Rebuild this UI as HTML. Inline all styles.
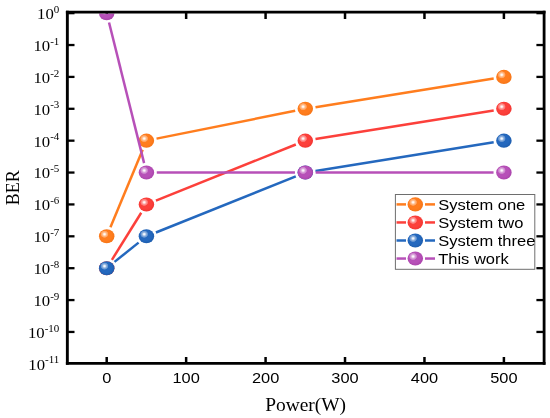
<!DOCTYPE html>
<html><head><meta charset="utf-8"><title>BER vs Power</title>
<style>
html,body{margin:0;padding:0;background:#fff;}
svg{display:block;}
.sans{font-family:"Liberation Sans",sans-serif;}
.serif{font-family:"Liberation Serif",serif;}
</style></head><body>
<svg width="550" height="418" viewBox="0 0 550 418">
<defs>
<radialGradient id="go" cx="0.45" cy="0.45" r="0.6"><stop offset="0" stop-color="#FF7D1E"/><stop offset="0.6" stop-color="#FF7D1E"/><stop offset="1" stop-color="#F47416"/></radialGradient>
<radialGradient id="gr" cx="0.45" cy="0.45" r="0.6"><stop offset="0" stop-color="#FC403B"/><stop offset="0.6" stop-color="#FC403B"/><stop offset="1" stop-color="#F03430"/></radialGradient>
<radialGradient id="gb" cx="0.45" cy="0.45" r="0.6"><stop offset="0" stop-color="#2468BE"/><stop offset="0.6" stop-color="#2468BE"/><stop offset="1" stop-color="#1C5BAA"/></radialGradient>
<radialGradient id="gp" cx="0.45" cy="0.45" r="0.6"><stop offset="0" stop-color="#B750B8"/><stop offset="0.6" stop-color="#B750B8"/><stop offset="1" stop-color="#A842A9"/></radialGradient>
<radialGradient id="hl" cx="0.5" cy="0.5" r="0.5"><stop offset="0" stop-color="#fff" stop-opacity="1"/><stop offset="0.2" stop-color="#fff" stop-opacity="0.9"/><stop offset="0.5" stop-color="#fff" stop-opacity="0.5"/><stop offset="0.85" stop-color="#fff" stop-opacity="0.25"/><stop offset="1" stop-color="#fff" stop-opacity="0"/></radialGradient>
<clipPath id="plot"><rect x="68.8" y="13.5" width="473.9" height="348.5"/></clipPath>
</defs>
<rect width="550" height="418" fill="#fff"/>
<g stroke="#000" fill="none">
<line x1="68" y1="13.15" x2="74.5" y2="13.15" stroke-width="2.3"/>
<line x1="536.4" y1="13.15" x2="543.5" y2="13.15" stroke-width="2.3"/>
<line x1="68" y1="45.03" x2="74.5" y2="45.03" stroke-width="2.3"/>
<line x1="536.4" y1="45.03" x2="543.5" y2="45.03" stroke-width="2.3"/>
<line x1="68" y1="76.91" x2="74.5" y2="76.91" stroke-width="2.3"/>
<line x1="536.4" y1="76.91" x2="543.5" y2="76.91" stroke-width="2.3"/>
<line x1="68" y1="108.79" x2="74.5" y2="108.79" stroke-width="2.3"/>
<line x1="536.4" y1="108.79" x2="543.5" y2="108.79" stroke-width="2.3"/>
<line x1="68" y1="140.67" x2="74.5" y2="140.67" stroke-width="2.3"/>
<line x1="536.4" y1="140.67" x2="543.5" y2="140.67" stroke-width="2.3"/>
<line x1="68" y1="172.55" x2="74.5" y2="172.55" stroke-width="2.3"/>
<line x1="536.4" y1="172.55" x2="543.5" y2="172.55" stroke-width="2.3"/>
<line x1="68" y1="204.43" x2="74.5" y2="204.43" stroke-width="2.3"/>
<line x1="536.4" y1="204.43" x2="543.5" y2="204.43" stroke-width="2.3"/>
<line x1="68" y1="236.31" x2="74.5" y2="236.31" stroke-width="2.3"/>
<line x1="536.4" y1="236.31" x2="543.5" y2="236.31" stroke-width="2.3"/>
<line x1="68" y1="268.19" x2="74.5" y2="268.19" stroke-width="2.3"/>
<line x1="536.4" y1="268.19" x2="543.5" y2="268.19" stroke-width="2.3"/>
<line x1="68" y1="300.07" x2="74.5" y2="300.07" stroke-width="2.3"/>
<line x1="536.4" y1="300.07" x2="543.5" y2="300.07" stroke-width="2.3"/>
<line x1="68" y1="331.95" x2="74.5" y2="331.95" stroke-width="2.3"/>
<line x1="536.4" y1="331.95" x2="543.5" y2="331.95" stroke-width="2.3"/>
<line x1="106.70" y1="357" x2="106.70" y2="363" stroke-width="2.5"/>
<line x1="106.70" y1="13" x2="106.70" y2="19" stroke-width="2.5"/>
<line x1="186.14" y1="357" x2="186.14" y2="363" stroke-width="2.5"/>
<line x1="186.14" y1="13" x2="186.14" y2="19" stroke-width="2.5"/>
<line x1="265.58" y1="357" x2="265.58" y2="363" stroke-width="2.5"/>
<line x1="265.58" y1="13" x2="265.58" y2="19" stroke-width="2.5"/>
<line x1="345.02" y1="357" x2="345.02" y2="363" stroke-width="2.5"/>
<line x1="345.02" y1="13" x2="345.02" y2="19" stroke-width="2.5"/>
<line x1="424.46" y1="357" x2="424.46" y2="363" stroke-width="2.5"/>
<line x1="424.46" y1="13" x2="424.46" y2="19" stroke-width="2.5"/>
<line x1="503.90" y1="357" x2="503.90" y2="363" stroke-width="2.5"/>
<line x1="503.90" y1="13" x2="503.90" y2="19" stroke-width="2.5"/>
</g>
<g clip-path="url(#plot)">
<line x1="110.44" y1="227.31" x2="142.68" y2="149.67" stroke="#FF7D1E" stroke-width="2.5"/>
<line x1="156.54" y1="138.64" x2="295.18" y2="110.82" stroke="#FF7D1E" stroke-width="2.5"/>
<line x1="315.50" y1="107.15" x2="493.70" y2="78.55" stroke="#FF7D1E" stroke-width="2.5"/>
<ellipse cx="106.70" cy="236.31" rx="7.75" ry="7.05" fill="url(#go)"/><ellipse cx="104.50" cy="234.21" rx="4.1" ry="3.8" fill="url(#hl)"/>
<ellipse cx="146.42" cy="140.67" rx="7.75" ry="7.05" fill="url(#go)"/><ellipse cx="144.22" cy="138.57" rx="4.1" ry="3.8" fill="url(#hl)"/>
<ellipse cx="305.30" cy="108.79" rx="7.75" ry="7.05" fill="url(#go)"/><ellipse cx="303.10" cy="106.69" rx="4.1" ry="3.8" fill="url(#hl)"/>
<ellipse cx="503.90" cy="76.91" rx="7.75" ry="7.05" fill="url(#go)"/><ellipse cx="501.70" cy="74.81" rx="4.1" ry="3.8" fill="url(#hl)"/>
<line x1="111.90" y1="259.85" x2="141.22" y2="212.77" stroke="#FC403B" stroke-width="2.5"/>
<line x1="155.92" y1="200.62" x2="295.80" y2="144.48" stroke="#FC403B" stroke-width="2.5"/>
<line x1="315.50" y1="139.03" x2="493.70" y2="110.43" stroke="#FC403B" stroke-width="2.5"/>
<ellipse cx="106.70" cy="268.19" rx="7.75" ry="7.05" fill="url(#gr)"/><ellipse cx="104.50" cy="266.09" rx="4.1" ry="3.8" fill="url(#hl)"/>
<ellipse cx="146.42" cy="204.43" rx="7.75" ry="7.05" fill="url(#gr)"/><ellipse cx="144.22" cy="202.33" rx="4.1" ry="3.8" fill="url(#hl)"/>
<ellipse cx="305.30" cy="140.67" rx="7.75" ry="7.05" fill="url(#gr)"/><ellipse cx="303.10" cy="138.57" rx="4.1" ry="3.8" fill="url(#hl)"/>
<ellipse cx="503.90" cy="108.79" rx="7.75" ry="7.05" fill="url(#gr)"/><ellipse cx="501.70" cy="106.69" rx="4.1" ry="3.8" fill="url(#hl)"/>
<line x1="114.54" y1="261.90" x2="138.58" y2="242.60" stroke="#2468BE" stroke-width="2.5"/>
<line x1="155.92" y1="232.50" x2="295.80" y2="176.36" stroke="#2468BE" stroke-width="2.5"/>
<line x1="315.50" y1="170.91" x2="493.70" y2="142.31" stroke="#2468BE" stroke-width="2.5"/>
<ellipse cx="106.70" cy="268.19" rx="7.75" ry="7.05" fill="url(#gb)"/><ellipse cx="104.50" cy="266.09" rx="4.1" ry="3.8" fill="url(#hl)"/>
<ellipse cx="146.42" cy="236.31" rx="7.75" ry="7.05" fill="url(#gb)"/><ellipse cx="144.22" cy="234.21" rx="4.1" ry="3.8" fill="url(#hl)"/>
<ellipse cx="305.30" cy="172.55" rx="7.75" ry="7.05" fill="url(#gb)"/><ellipse cx="303.10" cy="170.45" rx="4.1" ry="3.8" fill="url(#hl)"/>
<ellipse cx="503.90" cy="140.67" rx="7.75" ry="7.05" fill="url(#gb)"/><ellipse cx="501.70" cy="138.57" rx="4.1" ry="3.8" fill="url(#hl)"/>
<line x1="109.04" y1="22.55" x2="144.08" y2="163.15" stroke="#B750B8" stroke-width="2.5"/>
<line x1="156.77" y1="172.55" x2="294.95" y2="172.55" stroke="#B750B8" stroke-width="2.5"/>
<line x1="315.65" y1="172.55" x2="493.55" y2="172.55" stroke="#B750B8" stroke-width="2.5"/>
<ellipse cx="106.70" cy="13.15" rx="7.75" ry="7.05" fill="url(#gp)"/><ellipse cx="104.50" cy="11.05" rx="4.1" ry="3.8" fill="url(#hl)"/>
<ellipse cx="146.42" cy="172.55" rx="7.75" ry="7.05" fill="url(#gp)"/><ellipse cx="144.22" cy="170.45" rx="4.1" ry="3.8" fill="url(#hl)"/>
<ellipse cx="305.30" cy="172.55" rx="7.75" ry="7.05" fill="url(#gp)"/><ellipse cx="303.10" cy="170.45" rx="4.1" ry="3.8" fill="url(#hl)"/>
<ellipse cx="503.90" cy="172.55" rx="7.75" ry="7.05" fill="url(#gp)"/><ellipse cx="501.70" cy="170.45" rx="4.1" ry="3.8" fill="url(#hl)"/>
</g>
<g stroke="#000" fill="none">
<line x1="67.35" y1="10.7" x2="67.35" y2="364.7" stroke-width="2.9"/>
<line x1="544.1" y1="10.7" x2="544.1" y2="364.7" stroke-width="2.8"/>
<line x1="65.9" y1="12.1" x2="545.5" y2="12.1" stroke-width="2.8"/>
<line x1="65.9" y1="363.35" x2="545.5" y2="363.35" stroke-width="2.7"/>
</g>
<text class="serif" transform="translate(59.3,19.05) scale(1.1,1)" text-anchor="end" font-size="15.2" fill="#000">10<tspan font-size="10" dy="-6.3">0</tspan></text>
<text class="serif" transform="translate(59.3,50.93) scale(1.1,1)" text-anchor="end" font-size="15.2" fill="#000">10<tspan font-size="10" dy="-6.3">-1</tspan></text>
<text class="serif" transform="translate(59.3,82.81) scale(1.1,1)" text-anchor="end" font-size="15.2" fill="#000">10<tspan font-size="10" dy="-6.3">-2</tspan></text>
<text class="serif" transform="translate(59.3,114.69) scale(1.1,1)" text-anchor="end" font-size="15.2" fill="#000">10<tspan font-size="10" dy="-6.3">-3</tspan></text>
<text class="serif" transform="translate(59.3,146.57) scale(1.1,1)" text-anchor="end" font-size="15.2" fill="#000">10<tspan font-size="10" dy="-6.3">-4</tspan></text>
<text class="serif" transform="translate(59.3,178.45) scale(1.1,1)" text-anchor="end" font-size="15.2" fill="#000">10<tspan font-size="10" dy="-6.3">-5</tspan></text>
<text class="serif" transform="translate(59.3,210.33) scale(1.1,1)" text-anchor="end" font-size="15.2" fill="#000">10<tspan font-size="10" dy="-6.3">-6</tspan></text>
<text class="serif" transform="translate(59.3,242.21) scale(1.1,1)" text-anchor="end" font-size="15.2" fill="#000">10<tspan font-size="10" dy="-6.3">-7</tspan></text>
<text class="serif" transform="translate(59.3,274.09) scale(1.1,1)" text-anchor="end" font-size="15.2" fill="#000">10<tspan font-size="10" dy="-6.3">-8</tspan></text>
<text class="serif" transform="translate(59.3,305.97) scale(1.1,1)" text-anchor="end" font-size="15.2" fill="#000">10<tspan font-size="10" dy="-6.3">-9</tspan></text>
<text class="serif" transform="translate(59.3,337.85) scale(1.1,1)" text-anchor="end" font-size="15.2" fill="#000">10<tspan font-size="10" dy="-6.3">-10</tspan></text>
<text class="serif" transform="translate(59.3,369.73) scale(1.1,1)" text-anchor="end" font-size="15.2" fill="#000">10<tspan font-size="10" dy="-6.3">-11</tspan></text>
<text class="sans" transform="translate(106.70,383) scale(1.13,1)" text-anchor="middle" font-size="14.5" fill="#000">0</text>
<text class="sans" transform="translate(186.14,383) scale(1.13,1)" text-anchor="middle" font-size="14.5" fill="#000">100</text>
<text class="sans" transform="translate(265.58,383) scale(1.13,1)" text-anchor="middle" font-size="14.5" fill="#000">200</text>
<text class="sans" transform="translate(345.02,383) scale(1.13,1)" text-anchor="middle" font-size="14.5" fill="#000">300</text>
<text class="sans" transform="translate(424.46,383) scale(1.13,1)" text-anchor="middle" font-size="14.5" fill="#000">400</text>
<text class="sans" transform="translate(503.90,383) scale(1.13,1)" text-anchor="middle" font-size="14.5" fill="#000">500</text>
<text class="serif" transform="translate(305.6,410.6) scale(1.08,1)" text-anchor="middle" font-size="18" fill="#000">Power(W)</text>
<text class="serif" transform="translate(19.1,187.8) scale(1.1,1) rotate(-90)" text-anchor="middle" font-size="18" fill="#000">BER</text>
<rect x="395.4" y="194.5" width="139.4" height="74.8" fill="#fff" stroke="#6e6e6e" stroke-width="1"/>
<line x1="396.5" y1="204.40" x2="406" y2="204.40" stroke="#FF7D1E" stroke-width="2.5"/>
<line x1="425" y1="204.40" x2="435" y2="204.40" stroke="#FF7D1E" stroke-width="2.5"/>
<ellipse cx="415.30" cy="204.40" rx="7.75" ry="7.05" fill="url(#go)"/><ellipse cx="413.10" cy="202.30" rx="4.1" ry="3.8" fill="url(#hl)"/>
<text class="sans" transform="translate(438.2,209.70) scale(1.1,1)" font-size="15" fill="#000">System one</text>
<line x1="396.5" y1="222.45" x2="406" y2="222.45" stroke="#FC403B" stroke-width="2.5"/>
<line x1="425" y1="222.45" x2="435" y2="222.45" stroke="#FC403B" stroke-width="2.5"/>
<ellipse cx="415.30" cy="222.45" rx="7.75" ry="7.05" fill="url(#gr)"/><ellipse cx="413.10" cy="220.35" rx="4.1" ry="3.8" fill="url(#hl)"/>
<text class="sans" transform="translate(438.2,227.75) scale(1.1,1)" font-size="15" fill="#000">System two</text>
<line x1="396.5" y1="240.50" x2="406" y2="240.50" stroke="#2468BE" stroke-width="2.5"/>
<line x1="425" y1="240.50" x2="435" y2="240.50" stroke="#2468BE" stroke-width="2.5"/>
<ellipse cx="415.30" cy="240.50" rx="7.75" ry="7.05" fill="url(#gb)"/><ellipse cx="413.10" cy="238.40" rx="4.1" ry="3.8" fill="url(#hl)"/>
<text class="sans" transform="translate(438.2,245.80) scale(1.1,1)" font-size="15" fill="#000">System three</text>
<line x1="396.5" y1="258.55" x2="406" y2="258.55" stroke="#B750B8" stroke-width="2.5"/>
<line x1="425" y1="258.55" x2="435" y2="258.55" stroke="#B750B8" stroke-width="2.5"/>
<ellipse cx="415.30" cy="258.55" rx="7.75" ry="7.05" fill="url(#gp)"/><ellipse cx="413.10" cy="256.45" rx="4.1" ry="3.8" fill="url(#hl)"/>
<text class="sans" transform="translate(438.2,263.85) scale(1.1,1)" font-size="15" fill="#000">This work</text>
</svg>
</body></html>
